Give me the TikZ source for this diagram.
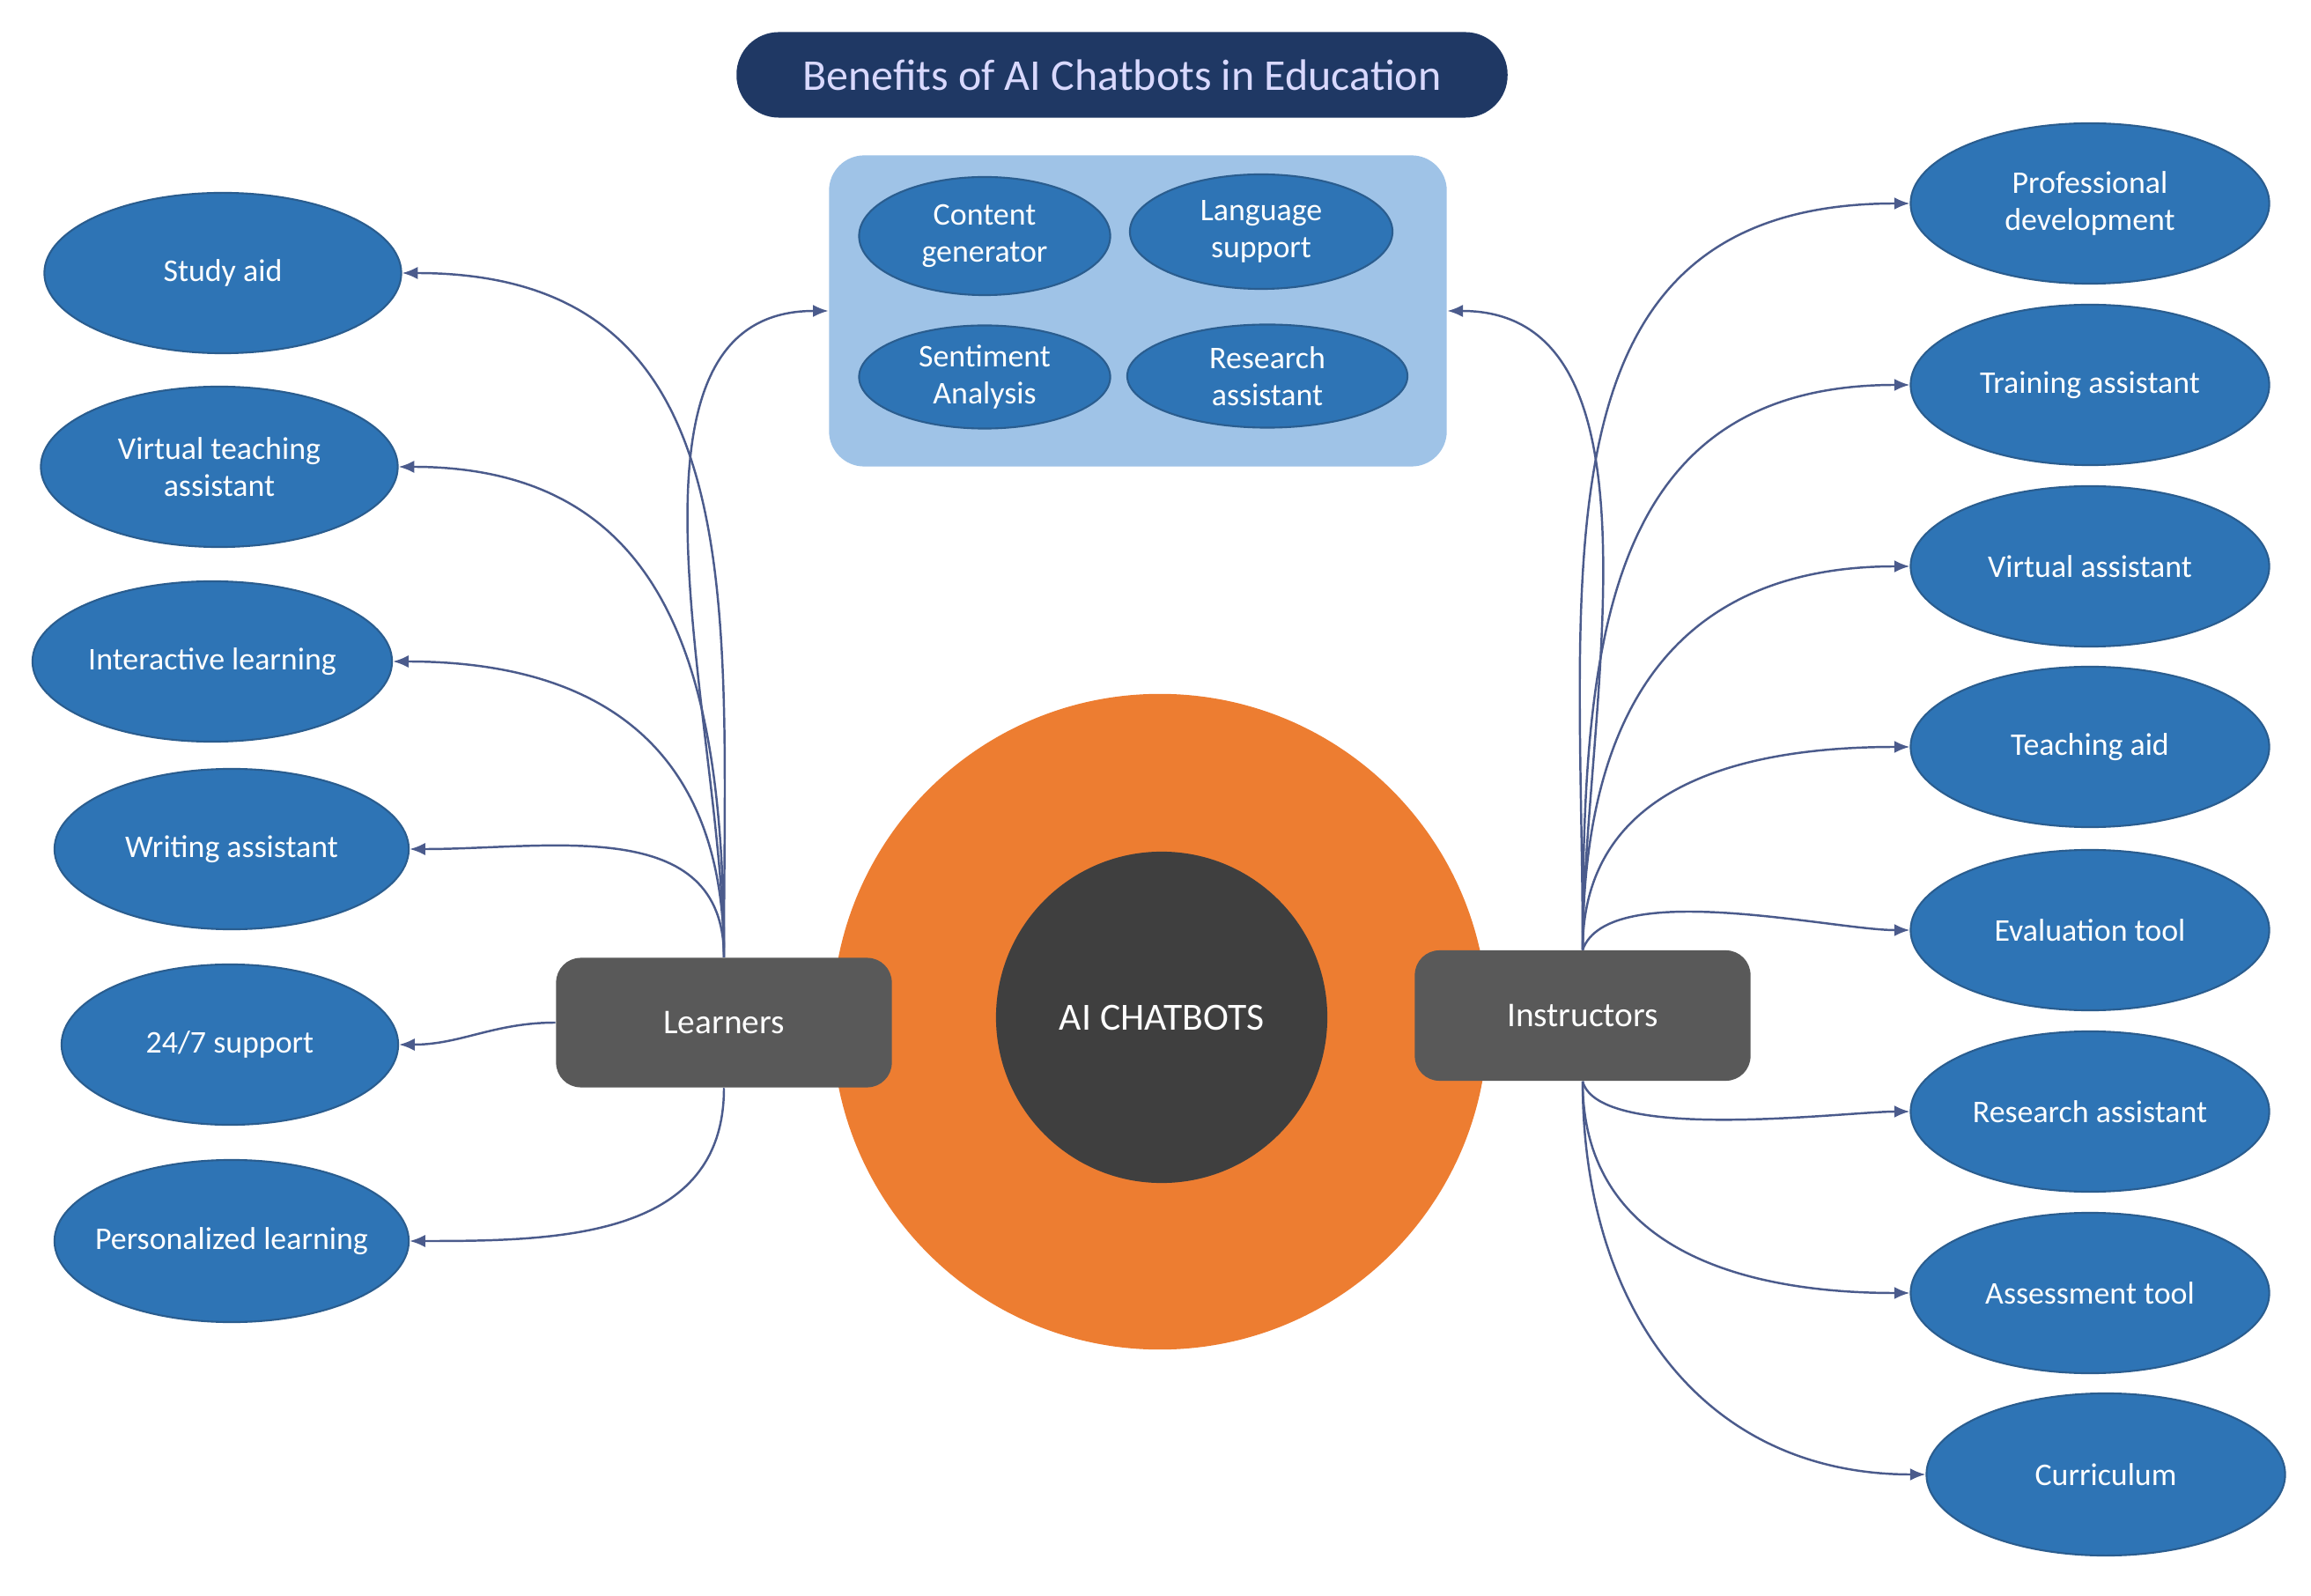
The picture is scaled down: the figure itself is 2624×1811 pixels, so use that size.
\documentclass[tikz,border=0pt]{standalone}
\usepackage{fontspec}
\setmainfont{Carlito}
\usetikzlibrary{arrows.meta,shapes.geometric}
\definecolor{ellblue}{HTML}{2E74B5}
\definecolor{ellborder}{HTML}{2A5D8F}
\definecolor{lightbox}{HTML}{9FC3E7}
\definecolor{orangec}{HTML}{ED7D31}
\definecolor{darkc}{HTML}{3F3F3F}
\definecolor{greybox}{HTML}{595959}
\definecolor{navy}{HTML}{1F3864}
\definecolor{linec}{HTML}{4B5B8C}
\begin{document}
\begin{tikzpicture}[x=0.01cm,y=0.01cm,
  bubble/.style={ellipse,fill=ellblue,draw=ellborder,line width=0.6pt,
    minimum width=4.05cm,minimum height=1.82cm,inner sep=0pt,align=center,
    text=white,font=\fontsize{10.2}{12}\selectfont},
  smallbubble/.style={bubble,minimum height=1.3cm},
  hub/.style={rectangle,rounded corners=0.28cm,fill=greybox,
    minimum width=3.81cm,minimum height=1.47cm,text=white,
    font=\fontsize{11.2}{13}\selectfont},
  link/.style={draw=linec,line width=0.7pt,-{Latex[length=5pt,width=4pt]}}]
\useasboundingbox[fill=white] (0,0) rectangle (2624,1811);

% title
\node[rectangle,rounded corners=0.48cm,fill=navy,minimum width=8.75cm,minimum height=0.97cm,
  text=white!85!blue,font=\fontsize{14.2}{16}\selectfont] (title) at (1274,1726)
  {Benefits of AI Chatbots in Education};

% light box with four sub-benefits
\node[rectangle,rounded corners=0.4cm,fill=lightbox,minimum width=7.01cm,minimum height=3.53cm] (tools) at (1292,1458) {};
\node[smallbubble,minimum width=2.85cm,minimum height=1.34cm] (content) at (1118,1543) {Content\\generator};
\node[smallbubble,minimum width=2.98cm,minimum height=1.30cm] (language) at (1432,1548) {Language\\support};
\node[smallbubble,minimum width=2.85cm,minimum height=1.17cm] (sentiment) at (1118,1383) {Sentiment\\Analysis};
\node[smallbubble,minimum width=3.18cm,minimum height=1.17cm] (research1) at (1439,1384) {Research\\assistant};

% centre
\node[circle,fill=orangec,minimum size=7.44cm,inner sep=0pt] (outer) at (1317,651) {};
\node[circle,fill=darkc,minimum size=3.76cm,inner sep=0pt,text=white,
  font=\fontsize{12.4}{14}\selectfont] (core) at (1319,656) {AI CHATBOTS};
\node[hub] (learners) at (822,650) {Learners};
\node[hub,minimum height=1.48cm] (instructors) at (1797,658) {Instructors};

% left benefits
\node[bubble] (studyaid) at (253,1501) {Study aid};
\node[bubble] (vta) at (249,1281) {Virtual teaching\\assistant};
\node[bubble,minimum width=4.08cm] (interactive) at (241,1060) {\makebox[2cm]{Interactive learning}};
\node[bubble,minimum width=4.02cm] (writing) at (263,847) {Writing assistant};
\node[bubble,minimum width=3.82cm] (support) at (261,625) {24/7 support};
\node[bubble,minimum width=4.02cm,minimum height=1.84cm] (personal) at (263,402) {\makebox[2cm]{Personalized learning}};

% right benefits
\node[bubble,minimum width=4.07cm] (prof) at (2373,1580) {Professional\\development};
\node[bubble,minimum width=4.07cm] (training) at (2373,1374) {Training assistant};
\node[bubble,minimum width=4.07cm] (virtual) at (2373,1168) {Virtual assistant};
\node[bubble,minimum width=4.07cm] (teaching) at (2373,963) {Teaching aid};
\node[bubble,minimum width=4.07cm] (evaluation) at (2373,755) {Evaluation tool};
\node[bubble,minimum width=4.07cm] (research2) at (2373,549) {Research assistant};
\node[bubble,minimum width=4.07cm] (assessment) at (2373,343) {Assessment tool};
\node[bubble,minimum width=4.07cm,minimum height=1.84cm] (curriculum) at (2391,137) {Curriculum};

% learner connectors
\draw[link] (learners.north) to[out=90,in=180,looseness=0.9] (tools.west);
\draw[link] (learners.north) to[out=90,in=0,looseness=1.2] (studyaid.east);
\draw[link] (learners.north) to[out=90,in=0,looseness=1.2] (vta.east);
\draw[link] (learners.north) to[out=90,in=0,looseness=1.2] (interactive.east);
\draw[link] (learners.north) to[out=90,in=0,looseness=1.1] (writing.east);
\draw[link] (learners.west) to[out=180,in=0,looseness=1] (support.east);
\draw[link] (learners.south) to[out=-90,in=0,looseness=1.1] (personal.east);

% instructor connectors
\draw[link] (instructors.north) to[out=90,in=0,looseness=0.9] (tools.east);
\draw[link] (instructors.north) to[out=90,in=180,looseness=1.2] (prof.west);
\draw[link] (instructors.north) to[out=90,in=180,looseness=1.2] (training.west);
\draw[link] (instructors.north) to[out=90,in=180,looseness=1.2] (virtual.west);
\draw[link] (instructors.north) to[out=90,in=180,looseness=1.1] (teaching.west);
\draw[link] (instructors.north) to[out=70,in=180,looseness=0.6] (evaluation.west);
\draw[link] (instructors.south) to[out=-75,in=180,looseness=0.5] (research2.west);
\draw[link] (instructors.south) to[out=-90,in=180,looseness=1.1] (assessment.west);
\draw[link] (instructors.south) to[out=-90,in=180,looseness=1.1] (curriculum.west);
\end{tikzpicture}
\end{document}
